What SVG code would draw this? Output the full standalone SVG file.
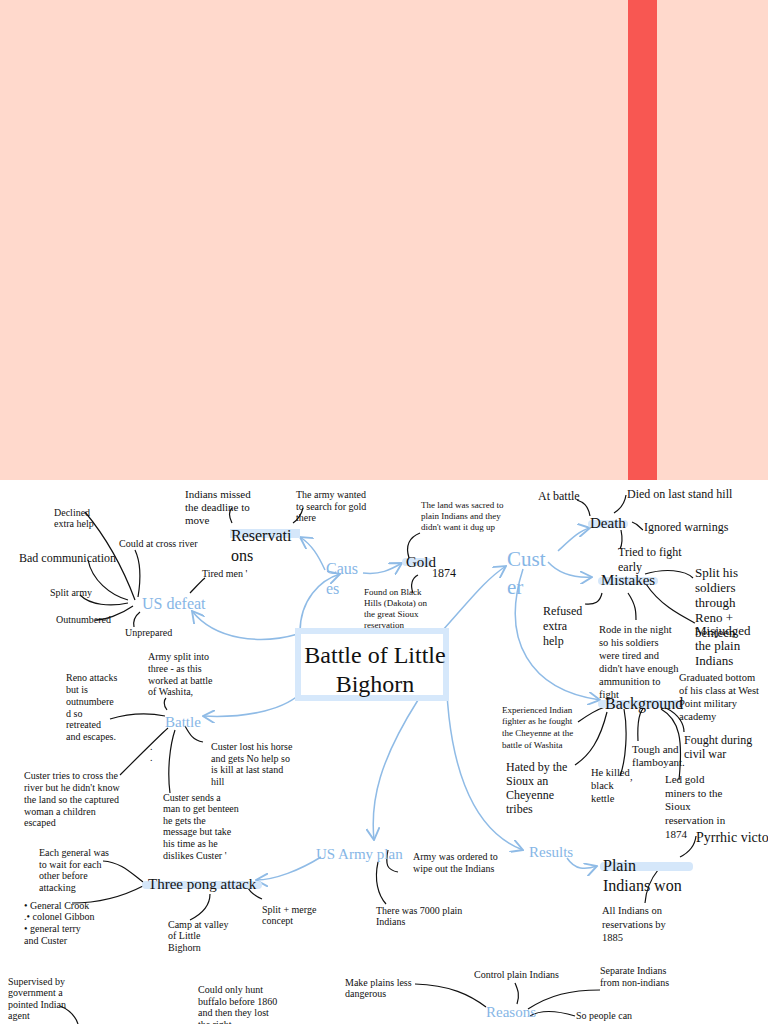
<svg xmlns="http://www.w3.org/2000/svg" width="768" height="1024" viewBox="0 0 768 1024" font-family="'Liberation Serif', 'DejaVu Serif', serif">
<style>
text{font-family:'Liberation Serif','DejaVu Serif',serif;fill:#111}
.s{font-size:10px}.m{font-size:12px}.l{font-size:15px}
.b{fill:#86b6e6}
.bl{fill:none;stroke:#8fbbe6;stroke-width:1.5}
.k{fill:none;stroke:#111;stroke-width:1.2}
.hl{fill:#d5e7fa}
</style>
<defs><marker id="a" viewBox="0 0 10 10" refX="9" refY="5" markerWidth="9" markerHeight="9" orient="auto"><path d="M0,0 L9,5 L0,10" fill="none" stroke="#8fbbe6" stroke-width="1.4"/></marker></defs>
<rect width="768" height="480" fill="#ffd9cc"/>
<rect x="628" y="0" width="29" height="480" fill="#f85752"/>
<rect y="480" width="768" height="544" fill="#fff"/>
<g id="connectors">
<path class="bl" d="M300,632 C300,600 320,580 340,574" marker-end="url(#a)"/>
<path class="bl" d="M325,570 C318,555 312,545 300,537" marker-end="url(#a)"/>
<path class="bl" d="M363,573 C380,575 390,570 402,563" marker-end="url(#a)"/>
<path class="bl" d="M298,634 C260,645 215,640 192,611" marker-end="url(#a)"/>
<path class="bl" d="M300,694 C280,712 240,718 203,716" marker-end="url(#a)"/>
<path class="bl" d="M443,630 C470,600 485,580 506,566" marker-end="url(#a)"/>
<path class="bl" d="M558,551 C570,540 580,530 590,528" marker-end="url(#a)"/>
<path class="bl" d="M548,562 C560,575 575,578 592,577" marker-end="url(#a)"/>
<path class="bl" d="M523,569 C500,640 530,690 600,700" marker-end="url(#a)"/>
<path class="bl" d="M418,700 C380,760 370,800 374,840" marker-end="url(#a)"/>
<path class="bl" d="M446,660 C446,760 470,830 523,850" marker-end="url(#a)"/>
<path class="bl" d="M567,858 C575,870 585,870 597,866" marker-end="url(#a)"/>
<path class="bl" d="M321,857 C300,870 275,880 256,880" marker-end="url(#a)"/>
<g class="k">
<path d="M232,523 C228,515 230,510 232,508"/><path d="M293,523 C300,518 302,512 303,508"/>
<path d="M409,558 C405,545 410,537 420,533"/><path d="M413,593 C410,585 412,578 418,575"/>
<path d="M590,516 C588,505 583,502 577,500"/><path d="M614,513 C622,508 625,502 626,495"/><path d="M632,522 C638,524 640,528 643,530"/><path d="M621,530 C623,540 622,545 620,549"/>
<path d="M602,593 C600,602 595,605 585,604"/><path d="M628,593 C636,605 636,612 636,620"/><path d="M645,574 C665,568 685,570 693,578"/><path d="M646,584 C660,605 680,615 695,623"/>
<path d="M605,707 C595,710 588,715 578,722"/><path d="M607,712 C600,740 590,755 575,765"/><path d="M624,709 C628,730 626,760 620,776"/><path d="M645,707 C640,710 637,720 638,741"/><path d="M661,709 C680,720 683,740 679,780"/><path d="M666,708 C680,715 684,725 684,732"/>
<path d="M696,836 C695,845 690,852 680,857"/><path d="M658,870 C650,880 646,890 645,903"/>
<path d="M388,850 C385,865 387,870 398,872"/><path d="M378,862 C374,880 378,895 386,904"/>
<path d="M143,882 C130,872 120,862 103,861"/><path d="M143,886 C120,898 95,903 72,903"/><path d="M210,894 C210,905 204,913 190,920"/><path d="M247,886 C250,893 255,896 262,899"/>
<path d="M168,728 C160,735 140,755 120,775"/><path d="M175,730 C170,745 167,770 170,793"/><path d="M185,726 C190,735 193,740 203,742"/><path d="M165,716 C150,713 130,713 110,719"/><path d="M167,710 C163,705 164,700 166,698"/>
<path d="M135,600 C120,560 100,530 85,512"/><path d="M138,597 C140,585 142,565 135,550"/><path d="M128,600 C110,595 92,580 88,560"/><path d="M128,603 C110,607 90,605 80,595"/><path d="M133,606 C120,615 105,620 95,620"/><path d="M140,612 C135,616 133,622 134,627"/><path d="M190,593 C195,588 200,582 205,578"/>
<path d="M415,984 C450,985 470,995 486,1007"/><path d="M517,1004 C520,995 518,990 515,983"/><path d="M528,1009 C550,995 570,990 600,990"/><path d="M530,1016 C540,1010 555,1010 575,1016"/><path d="M60,1006 C70,1010 75,1015 78,1024"/>
</g>
</g>
<g id="center"><rect x="298" y="631" width="148" height="67" fill="none" stroke="#d6e8fb" stroke-width="6"/><text x="375" y="663" font-size="24" text-anchor="middle">Battle of Little</text><text x="375" y="692" font-size="24" text-anchor="middle">Bighorn</text></g>
<g id="causes"><text x="326" y="574" font-size="16" class="b">Caus</text><text x="326" y="594" font-size="16" class="b">es</text></g>
<g id="reservations"><rect class="hl" x="230" y="529" width="70" height="9"/><text x="231" y="541" font-size="16">Reservati</text><text x="231" y="561" font-size="16">ons</text>
<text x="185" y="498" font-size="11">Indians missed</text><text x="185" y="511" font-size="11">the deadline to</text><text x="185" y="524" font-size="11">move</text>
<text x="296" y="498" class="s">The army wanted</text><text x="296" y="510" class="s">to search for gold</text><text x="296" y="521" class="s">there</text></g>
<g id="gold"><rect class="hl" x="402" y="558" width="30" height="8" rx="4"/><text x="406" y="567" class="l">Gold</text><text x="432" y="577" class="m">1874</text>
<text x="421" y="508" font-size="9">The land was sacred to</text><text x="421" y="519" font-size="9">plain Indians and they</text><text x="421" y="530" font-size="9">didn't want it dug up</text>
<text x="364" y="595" font-size="9">Found on Black</text><text x="364" y="606" font-size="9">Hills (Dakota) on</text><text x="364" y="617" font-size="9">the great Sioux</text><text x="364" y="628" font-size="9">reservation</text></g>
<g id="custer"><text x="507" y="566" font-size="21" class="b">Cust</text><text x="507" y="594" font-size="21" class="b">er</text></g>
<g id="death"><rect class="hl" x="588" y="520" width="40" height="8" rx="4"/><text x="590" y="528" class="l">Death</text><text x="538" y="500" class="m">At battle</text><text x="627" y="498" class="m">Died on last stand hill</text><text x="644" y="531" class="m">Ignored warnings</text></g>
<g id="mistakes"><rect class="hl" x="598" y="577" width="60" height="8" rx="4"/><text x="601" y="585" class="l">Mistakes</text><text x="618" y="556" class="m">Tried to fight</text><text x="618" y="571" class="m">early</text>
<text x="695" y="577" font-size="13">Split his</text><text x="695" y="592" font-size="13">soldiers</text><text x="695" y="607" font-size="13">through</text><text x="695" y="622" font-size="13">Reno +</text><text x="695" y="637" font-size="13">benteen</text>
<text x="695" y="635" font-size="13">Misjudged</text><text x="695" y="650" font-size="13">the plain</text><text x="695" y="665" font-size="13">Indians</text>
<text x="543" y="615" class="m">Refused</text><text x="543" y="630" class="m">extra</text><text x="543" y="645" class="m">help</text>
<text x="599" y="633" font-size="10.5">Rode in the night</text><text x="599" y="646" font-size="10.5">so his soldiers</text><text x="599" y="659" font-size="10.5">were tired and</text><text x="599" y="672" font-size="10.5">didn't have enough</text><text x="599" y="685" font-size="10.5">ammunition to</text><text x="599" y="698" font-size="10.5">fight</text></g>
<g id="background"><rect class="hl" x="598" y="700" width="85" height="8" rx="4"/><text x="605" y="709" font-size="16">Background</text>
<text x="679" y="681" font-size="10.5">Graduated bottom</text><text x="679" y="694" font-size="10.5">of his class at West</text><text x="679" y="707" font-size="10.5">Point military</text><text x="679" y="720" font-size="10.5">academy</text>
<text x="502" y="713" font-size="9">Experienced Indian</text><text x="502" y="724" font-size="9">fighter as he fought</text><text x="502" y="736" font-size="9">the Cheyenne at the</text><text x="502" y="748" font-size="9">battle of Washita</text>
<text x="684" y="744" class="m">Fought during</text><text x="684" y="758" class="m">civil war</text>
<text x="632" y="753" font-size="11">Tough and</text><text x="632" y="766" font-size="11">flamboyant.</text>
<text x="506" y="771" class="m">Hated by the</text><text x="506" y="785" class="m">Sioux an</text><text x="506" y="799" class="m">Cheyenne</text><text x="506" y="813" class="m">tribes</text>
<text x="591" y="776" font-size="10.5">He killed</text><text x="591" y="789" font-size="10.5">black</text><text x="591" y="802" font-size="10.5">kettle</text><text x="630" y="780" font-size="10.5">,</text>
<text x="665" y="783" font-size="11">Led gold</text><text x="665" y="797" font-size="11">miners to the</text><text x="665" y="810" font-size="11">Sioux</text><text x="665" y="824" font-size="11">reservation in</text><text x="665" y="838" font-size="11">1874</text></g>
<g id="results"><text x="529" y="857" class="l b">Results</text></g>
<g id="plain"><rect class="hl" x="600" y="862" width="93" height="9" rx="4"/><text x="603" y="871" font-size="16">Plain</text><text x="603" y="891" font-size="16">Indians won</text><text x="696" y="842" font-size="14">Pyrrhic victory</text>
<text x="602" y="914" font-size="10.5">All Indians on</text><text x="602" y="928" font-size="10.5">reservations by</text><text x="602" y="941" font-size="10.5">1885</text></g>
<g id="usarmy"><text x="316" y="859" class="l b">US Army plan</text><text x="413" y="860" class="s">Army was ordered to</text><text x="413" y="872" class="s">wipe out the Indians</text><text x="376" y="914" class="s">There was 7000 plain</text><text x="376" y="925" class="s">Indians</text></g>
<g id="three"><rect class="hl" x="142" y="881" width="120" height="8" rx="4"/><text x="148" y="889" class="l">Three pong attack</text>
<text x="39" y="856" class="s">Each general was</text><text x="39" y="868" class="s">to wait for each</text><text x="39" y="879" class="s">other before</text><text x="39" y="891" class="s">attacking</text>
<text x="24" y="909" class="s">• General Crook</text><text x="24" y="920" class="s">.• colonel Gibbon</text><text x="24" y="932" class="s">• general terry</text><text x="24" y="944" class="s">and Custer</text>
<text x="168" y="928" class="s">Camp at valley</text><text x="168" y="939" class="s">of Little</text><text x="168" y="951" class="s">Bighorn</text>
<text x="262" y="913" class="s">Split +  merge</text><text x="262" y="924" class="s">concept</text></g>
<g id="battle"><text x="165" y="727" class="l b">Battle</text>
<text x="148" y="660" class="s">Army split into</text><text x="148" y="672" class="s">three - as this</text><text x="148" y="684" class="s">worked at battle</text><text x="148" y="695" class="s">of Washita,</text>
<text x="66" y="681" class="s">Reno attacks</text><text x="66" y="693" class="s">but is</text><text x="66" y="705" class="s">outnumbere</text><text x="66" y="717" class="s">d so</text><text x="66" y="728" class="s">retreated</text><text x="66" y="740" class="s">and escapes.</text>
<text x="150" y="750" class="s">.</text><text x="150" y="761" class="s">.</text>
<text x="211" y="750" class="s">Custer lost his horse</text><text x="211" y="762" class="s">and gets No help so</text><text x="211" y="773" class="s">is kill at last stand</text><text x="211" y="785" class="s">hill</text>
<text x="24" y="779" class="s">Custer tries to cross the</text><text x="24" y="791" class="s">river but he didn't know</text><text x="24" y="803" class="s">the land so the captured</text><text x="24" y="815" class="s">woman a children</text><text x="24" y="826" class="s">escaped</text>
<text x="163" y="801" class="s">Custer sends a</text><text x="163" y="812" class="s">man to get benteen</text><text x="163" y="824" class="s">he gets the</text><text x="163" y="835" class="s">message but take</text><text x="163" y="847" class="s">his time as he</text><text x="163" y="859" class="s">dislikes Custer '</text></g>
<g id="usdefeat"><text x="142" y="609" font-size="16" class="b">US defeat</text>
<text x="54" y="516" class="s">Declined</text><text x="54" y="527" class="s">extra help</text><text x="119" y="547" class="s">Could at cross river</text><text x="19" y="562" class="m">Bad communication</text><text x="202" y="577" class="s">Tired men '</text><text x="50" y="596" class="s">Split army</text><text x="56" y="623" class="s">Outnumbered</text><text x="125" y="636" class="s">Unprepared</text></g>
<g id="reasons"><text x="486" y="1017" class="l b">Reasons</text><text x="345" y="986" class="s">Make plains less</text><text x="345" y="997" class="s">dangerous</text><text x="474" y="978" class="s">Control plain Indians</text><text x="600" y="974" class="s">Separate Indians</text><text x="600" y="986" class="s">from non-indians</text><text x="576" y="1019" class="s">So people can</text>
<text x="8" y="985" class="s">Supervised by</text><text x="8" y="996" class="s">government a</text><text x="8" y="1008" class="s">pointed Indian</text><text x="8" y="1019" class="s">agent</text>
<text x="198" y="993" class="s">Could only hunt</text><text x="198" y="1005" class="s">buffalo before 1860</text><text x="198" y="1016" class="s">and then they lost</text><text x="198" y="1028" class="s">the right</text></g>
</svg>
